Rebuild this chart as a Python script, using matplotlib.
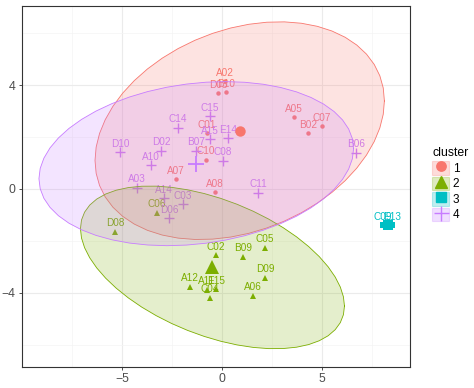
import numpy as np
import matplotlib
matplotlib.use("Agg")
import matplotlib.pyplot as plt
from matplotlib.patches import Patch
from matplotlib.lines import Line2D
from matplotlib.legend_handler import HandlerTuple

plt.rcParams['font.family'] = ['Liberation Sans', 'DejaVu Sans']

# cluster members (Dim1, Dim2)
c1_names = ["A02", "D03", "B10", "C01", "C10", "A07", "A08", "A05", "B02", "C07"]
c1_x = [0.15, -0.2, 0.2, -0.75, -0.8, -2.3, -0.35, 3.6, 4.3, 5.0]
c1_y = [4.15, 3.68, 3.73, 2.15, 1.12, 0.38, -0.12, 2.77, 2.15, 2.42]

c2_names = ["C06", "D08", "C02", "B09", "C05", "D09", "A06", "A12", "A11", "E15", "C04"]
c2_x = [-3.25, -5.35, -0.3, 1.05, 2.15, 2.15, 1.55, -1.6, -0.75, -0.3, -0.6]
c2_y = [-0.92, -1.65, -2.54, -2.6, -2.27, -3.42, -4.1, -3.77, -3.88, -3.85, -4.19]

c3_names = ["C09", "E13"]
c3_x = [8.05, 8.5]
c3_y = [-1.4, -1.4]

c4_names = ["C15", "C14", "D10", "D02", "A10", "B07", "A15", "E14", "C08",
            "A03", "A14", "C03", "D06", "C11", "B06"]
c4_x = [-0.6, -2.2, -5.1, -3.05, -3.55, -1.3, -0.6, 0.3, 0.05,
        -4.25, -2.9, -1.95, -2.65, 1.8, 6.7]
c4_y = [2.8, 2.35, 1.42, 1.47, 0.92, 1.47, 1.92, 1.96, 1.08,
        0.04, -0.35, -0.58, -1.12, -0.15, 1.39]

clusters = ["1", "2", "3", "4"]
colors = ["#F8766D", "#7CAE00", "#00BFC4", "#C77CFF"]
markers = ["o", "^", "s", "+"]
small_ms = [3.2, 4.6, 4.2, 6.5]
big_ms = [7.5, 10, 7.5, 12]

data = [(c1_names, c1_x, c1_y), (c2_names, c2_x, c2_y),
        (c3_names, c3_x, c3_y), (c4_names, c4_x, c4_y)]


def norm_ellipse(x, y, level=0.95, segments=51):
    # same as ggplot2 stat_ellipse(type = "norm")
    pts = np.column_stack([x, y])
    n = len(pts)
    center = pts.mean(axis=0)
    cov = np.cov(pts.T)
    chol = np.linalg.cholesky(cov).T
    dfd = n - 1
    radius = np.sqrt(dfd * ((1 - level) ** (-2 / dfd) - 1))
    t = np.linspace(0, 2 * np.pi, segments)
    circle = np.column_stack([np.cos(t), np.sin(t)])
    return center + radius * circle @ chol


fig = plt.figure(figsize=(4.74, 3.88), dpi=100)
ax = fig.add_axes([22 / 474, 21 / 388, 388 / 474, 361 / 388])

for (names, xs, ys), col, mk, ms in zip(data, colors, markers, small_ms):
    ax.plot(xs, ys, linestyle="none", marker=mk, color=col, markersize=ms,
            markeredgewidth=1.0 if mk == "+" else 0, zorder=3)
    for nm, x, y in zip(names, xs, ys):
        ax.annotate(nm, (x, y), xytext=(0, 2.5), textcoords="offset points",
                    ha="center", va="bottom", fontsize=7.2, color=col, zorder=3)

for (names, xs, ys), col in zip(data, colors):
    if len(xs) < 3:
        continue
    e = norm_ellipse(xs, ys)
    ax.fill(e[:, 0], e[:, 1], facecolor=col, alpha=0.2, edgecolor="none", zorder=4)
    ax.plot(e[:, 0], e[:, 1], color=col, lw=0.6, zorder=4)

for (names, xs, ys), col, mk, ms in zip(data, colors, markers, big_ms):
    ax.plot([np.mean(xs)], [np.mean(ys)], marker=mk, color=col, markersize=ms,
            markeredgewidth=1.3 if mk == "+" else 0, zorder=5)

ax.set_xlim(-10, 9.4)
ax.set_ylim(-6.85, 7.04)
ax.set_xticks([-5, 0, 5])
ax.set_yticks([-4, 0, 4])
ax.set_xticks([-7.5, -2.5, 2.5, 7.5], minor=True)
ax.set_yticks([-6, -2, 2, 6], minor=True)
ax.grid(which="major", color="#EBEBEB", lw=0.8, zorder=0)
ax.grid(which="minor", color="#F4F4F4", lw=0.5, zorder=0)
ax.set_axisbelow(True)
ax.tick_params(which="major", length=2.5, width=0.6, color="#333333",
               labelsize=8.8, labelcolor="#4D4D4D", pad=2)
ax.tick_params(which="minor", length=0)
for s in ax.spines.values():
    s.set_color("#333333")
    s.set_linewidth(0.8)

handles = []
for col, mk, ms in zip(colors, markers, big_ms):
    p = Patch(facecolor=col, alpha=0.25, edgecolor=col, lw=0.8)
    m = Line2D([], [], linestyle="none", marker=mk, color=col,
               markersize=ms * 0.9, markeredgewidth=1.0)
    handles.append((p, m))
leg = fig.legend(handles, clusters, handler_map={tuple: HandlerTuple(ndivide=1)},
                 loc="center left", bbox_to_anchor=(0.895, 0.525), frameon=False,
                 title="cluster", title_fontsize=8.8, fontsize=8.5,
                 handlelength=1.4, handleheight=1.4, labelspacing=0.15,
                 handletextpad=0.3, borderpad=0.2)
leg._legend_box.align = "left"

fig.savefig("out.png", dpi=100)
